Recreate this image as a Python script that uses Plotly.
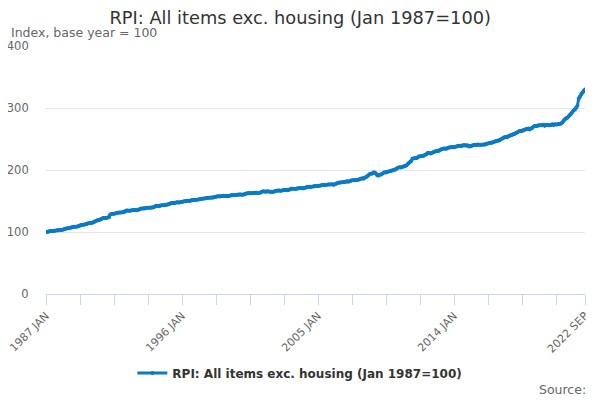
import plotly.graph_objects as go

# RPI: All items exc. housing, monthly, Jan 1987 = 100
years = list(range(1987, 2023))
months = ['JAN', 'FEB', 'MAR', 'APR', 'MAY', 'JUN', 'JUL', 'AUG', 'SEP', 'OCT', 'NOV', 'DEC']

rpi_1987 = [100.0, 100.4, 100.6, 101.5, 101.8, 101.8, 101.7, 102.0, 102.3, 102.7, 103.0, 102.9]
rpi_1988 = [103.2, 103.6, 104.1, 105.2, 105.7, 106.1, 106.2, 106.9, 107.3, 108.0, 108.3, 108.5]
rpi_1989 = [108.4, 109.0, 109.5, 110.6, 111.3, 111.6, 111.8, 112.1, 112.8, 113.6, 114.2, 114.4]
rpi_1990 = [114.6, 115.2, 115.9, 117.3, 118.3, 118.8, 119.1, 120.0, 121.1, 122.2, 122.5, 122.5]
rpi_1991 = [122.7, 123.3, 123.8, 128.2, 129.0, 129.6, 129.6, 130.0, 130.6, 131.1, 131.6, 131.6]
rpi_1992 = [131.4, 132.0, 132.4, 134.0, 134.5, 134.6, 134.3, 134.4, 134.9, 135.3, 135.3, 135.0]
rpi_1993 = [135.0, 135.7, 136.2, 137.5, 138.0, 138.1, 137.9, 138.4, 139.1, 139.2, 139.1, 139.4]
rpi_1994 = [139.3, 140.1, 140.5, 141.8, 142.2, 142.4, 142.0, 142.6, 143.0, 143.1, 143.1, 143.8]
rpi_1995 = [143.9, 144.6, 145.1, 146.3, 146.8, 147.2, 146.6, 147.3, 148.1, 147.5, 147.5, 148.4]
rpi_1996 = [148.3, 149.0, 149.5, 150.1, 150.5, 150.6, 150.1, 150.8, 151.5, 151.6, 151.5, 152.0]
rpi_1997 = [152.0, 152.6, 152.9, 153.4, 153.8, 154.1, 153.9, 154.6, 155.2, 155.3, 155.2, 155.5]
rpi_1998 = [155.4, 156.0, 156.3, 157.0, 157.8, 157.8, 157.3, 157.7, 158.2, 158.3, 158.2, 158.3]
rpi_1999 = [157.6, 158.2, 158.6, 159.3, 159.8, 159.6, 159.2, 159.6, 160.2, 160.3, 160.3, 160.5]
rpi_2000 = [159.9, 160.6, 161.1, 162.0, 162.6, 162.8, 162.3, 162.3, 163.1, 163.0, 163.3, 163.2]
rpi_2001 = [162.5, 163.1, 163.5, 164.5, 165.5, 165.6, 164.8, 165.3, 165.6, 165.3, 164.9, 165.1]
rpi_2002 = [164.6, 165.3, 165.8, 166.6, 167.0, 167.0, 166.4, 166.7, 167.4, 167.7, 167.8, 168.1]
rpi_2003 = [167.4, 168.3, 168.8, 169.6, 169.8, 169.6, 169.3, 169.8, 170.5, 170.5, 170.6, 171.1]
rpi_2004 = [170.3, 171.0, 171.3, 172.1, 172.8, 173.0, 172.6, 173.0, 173.3, 173.9, 174.0, 174.6]
rpi_2005 = [173.8, 174.4, 175.0, 175.6, 176.0, 176.1, 176.0, 176.4, 176.8, 176.8, 176.6, 176.9]
rpi_2006 = [176.3, 176.8, 177.4, 178.5, 179.4, 179.7, 179.7, 180.4, 180.6, 180.6, 181.0, 181.9]
rpi_2007 = [181.1, 181.9, 182.6, 183.3, 183.6, 184.0, 183.4, 183.9, 184.3, 185.2, 185.9, 186.7]
rpi_2008 = [186.0, 187.4, 188.3, 190.0, 191.6, 193.5, 193.8, 194.5, 196.0, 195.8, 194.3, 191.6]
rpi_2009 = [191.0, 192.4, 192.9, 194.0, 195.4, 196.2, 196.0, 197.0, 197.6, 198.0, 198.5, 199.4]
rpi_2010 = [199.6, 200.6, 201.7, 203.2, 204.0, 204.3, 204.0, 205.3, 205.7, 206.5, 207.4, 208.9]
rpi_2011 = [211.2, 213.0, 214.6, 218.2, 219.0, 218.9, 218.8, 220.2, 221.6, 222.1, 222.2, 222.6]
rpi_2012 = [223.0, 224.4, 225.3, 227.4, 227.3, 226.8, 227.0, 228.2, 229.2, 230.4, 230.3, 231.1]
rpi_2013 = [230.9, 232.6, 233.5, 234.4, 234.7, 234.5, 234.4, 235.5, 236.3, 236.5, 236.5, 237.2]
rpi_2014 = [236.5, 237.6, 238.1, 238.9, 239.0, 239.2, 238.9, 239.8, 240.0, 240.0, 239.6, 239.7]
rpi_2015 = [237.8, 238.5, 239.2, 239.9, 240.5, 240.8, 240.5, 241.0, 240.9, 240.9, 240.9, 241.3]
rpi_2016 = [240.8, 241.6, 242.3, 242.8, 243.4, 243.8, 243.8, 244.9, 245.5, 246.2, 246.6, 247.6]
rpi_2017 = [247.5, 249.3, 250.4, 251.8, 252.8, 253.3, 253.0, 254.4, 255.4, 256.0, 256.5, 258.0]
rpi_2018 = [258.0, 259.6, 260.3, 261.6, 262.8, 263.0, 262.9, 264.4, 265.1, 265.8, 266.2, 267.0]
rpi_2019 = [265.5, 266.9, 267.8, 269.8, 270.9, 270.8, 271.1, 272.2, 272.2, 272.1, 272.2, 272.8]
rpi_2020 = [271.2, 272.4, 272.8, 272.2, 272.1, 272.4, 273.9, 272.7, 273.7, 273.3, 273.3, 274.1]
rpi_2021 = [274.3, 275.0, 276.6, 279.4, 281.8, 283.3, 284.1, 286.6, 288.8, 290.6, 293.4, 296.4]
rpi_2022 = [297.7, 300.6, 303.7, 314.8, 318.4, 322.6, 324.9, 327.5, 329.8]

rows = [rpi_1987, rpi_1988, rpi_1989, rpi_1990, rpi_1991, rpi_1992, rpi_1993, rpi_1994,
        rpi_1995, rpi_1996, rpi_1997, rpi_1998, rpi_1999, rpi_2000, rpi_2001, rpi_2002,
        rpi_2003, rpi_2004, rpi_2005, rpi_2006, rpi_2007, rpi_2008, rpi_2009, rpi_2010,
        rpi_2011, rpi_2012, rpi_2013, rpi_2014, rpi_2015, rpi_2016, rpi_2017, rpi_2018,
        rpi_2019, rpi_2020, rpi_2021, rpi_2022]

dates = []
values = []
for yr, row in zip(years, rows):
    for m, v in zip(months, row):
        dates.append(f"{yr} {m}")
        values.append(v)

# ticks every 27 months, labels on every fourth one plus the last month
tick_idx = list(range(0, len(dates), 27))
if tick_idx[-1] != len(dates) - 1:
    tick_idx.append(len(dates) - 1)
tick_vals = [dates[i] for i in tick_idx]
tick_text = [dates[i] if (i % 108 == 0 or i == len(dates) - 1) else '' for i in tick_idx]

series_name = 'RPI: All items exc. housing (Jan 1987=100)'
blue = '#0a7bc4'
grey = '#666666'

fig = go.Figure()
fig.add_trace(go.Scatter(
    x=dates, y=values, name=series_name, mode='lines+markers',
    line=dict(color=blue, width=3),
    marker=dict(color=blue, size=4),
))

# the page body has an 8px margin, so the layout is nudged up and left by that much
fig.update_layout(
    width=600, height=400,
    margin=dict(l=38, r=23, t=38, b=114),
    paper_bgcolor='white', plot_bgcolor='white',
    font=dict(family='DejaVu Sans', color=grey, size=11),
    title=dict(text=series_name, x=0.487, xanchor='center', y=0.975, yanchor='middle',
               font=dict(size=17.8, color='#333333')),
    showlegend=True,
    legend=dict(orientation='h', x=0.471, xanchor='center', y=-0.319, yanchor='middle',
                itemwidth=30, font=dict(size=12, color='#333333', weight='bold')),
    xaxis=dict(type='category', range=[0, len(dates) - 1], tickmode='array',
               tickvals=tick_vals, ticktext=tick_text, tickangle=-45,
               ticks='outside', ticklen=10, tickcolor='#ccd6eb',
               showline=True, linecolor='#ccd6eb', showgrid=False, automargin=False,
               tickfont=dict(size=11, color=grey)),
    yaxis=dict(range=[0, 400], dtick=100, gridcolor='#e6e6e6', zeroline=False,
               ticks='outside', ticklen=14, tickcolor='white', automargin=False,
               tickfont=dict(size=11.5, color=grey)),
    annotations=[
        dict(text='Index, base year = 100', xref='paper', yref='paper',
             x=-0.068, y=1.056, xanchor='left', yanchor='middle', showarrow=False,
             font=dict(size=12.5, color=grey)),
        dict(text='Source:', xref='paper', yref='paper', x=1.006, y=-0.387,
             xanchor='right', yanchor='middle', showarrow=False,
             font=dict(size=12.5, color=grey)),
    ],
)

fig.write_html("out.html")
